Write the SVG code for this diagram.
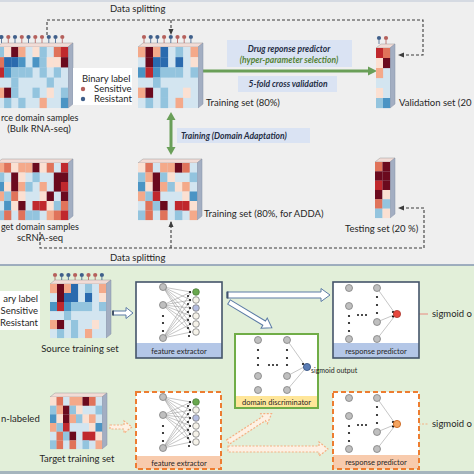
<svg xmlns="http://www.w3.org/2000/svg" xmlns:xlink="http://www.w3.org/1999/xlink" width="474" height="474" viewBox="0 0 474 474">
<style>
.t{font-family:Lato,"Liberation Sans",sans-serif;fill:#262626;font-size:9.5px}
.sm{font-size:7.5px}
.bi{font-weight:bold;font-style:italic;font-size:8.5px;fill:#1f2d44}
.gi{fill:#548235}
.mid{text-anchor:middle}
.end{text-anchor:end}
.nar{font-size:9px}
.a{fill:#6b0a1e}.b{fill:#c0282d}.c{fill:#e0735a}.d{fill:#f4a98a}.e{fill:#fbe0d2}.f{fill:#d3e5f0}.g{fill:#93c4de}.h{fill:#4b94c4}.i{fill:#2a6aae}
.k8 rect{width:7.6px;height:10.1px}
.k10 rect{width:7.2px;height:10.1px}
.k2 rect{width:7.1px;height:10.1px}
.tf{fill:#f2dcd6;stroke:#9a9a9a;stroke-width:.5}
.sf{fill:#a3aec2;stroke:#8791a6;stroke-width:.5}
.dl{fill:none;stroke:#3c3c3c;stroke-width:1.1;stroke-dasharray:3 2}
.gl{stroke:#6a9f58;stroke-width:3;fill:none}
.gh{fill:#6a9f58}
.rd{fill:#b5605c}.bl{fill:#3f5f8a}
.rs{stroke:#b5605c;stroke-width:.8}.bs{stroke:#3f5f8a;stroke-width:.8}
.nl{stroke:#8c8c8c;stroke-width:.5;fill:none}
.gn{fill:#bfbfbf;stroke:#7f7f7f;stroke-width:.8}
.wn{fill:#f6f3ea;stroke:#7f7f7f;stroke-width:.8}
.dt{fill:#111}
.ha{fill:#fff;stroke:#5b7ba5;stroke-width:1}
.hd{fill:#fdf1e4;stroke:#f4b183;stroke-width:1.2;stroke-dasharray:2 1.5}
.lb{fill:#dae3f3}
</style>
<defs>
<marker id="ah" viewBox="0 0 6 6" refX="5" refY="3" markerWidth="6" markerHeight="6" orient="auto" markerUnits="userSpaceOnUse"><path d="M0,0.5L6,3L0,5.5z" fill="#3c3c3c"/></marker>
<g id="hmA" class="k8">
<rect class="f" x="0" y="0" style="width:60px;height:60px"/>
<rect class="d" x="0" y="0"/><rect class="a" x="7.5" y="0"/><rect class="d" x="15" y="0"/><rect class="i" x="22.5" y="0"/><rect class="g" x="37.5" y="0"/><rect class="d" x="52.5" y="0"/>
<rect class="a" x="7.5" y="10"/><rect class="i" x="15" y="10"/><rect class="i" x="22.5" y="10"/><rect class="i" x="37.5" y="10"/><rect class="e" x="52.5" y="10"/>
<rect class="h" x="0" y="20"/><rect class="b" x="7.5" y="20"/><rect class="h" x="15" y="20"/><rect class="g" x="22.5" y="20"/><rect class="g" x="30" y="20"/><rect class="g" x="37.5" y="20"/><rect class="g" x="52.5" y="20"/>
<rect class="g" x="15" y="30"/>
<rect class="d" x="0" y="40"/><rect class="a" x="7.5" y="40"/><rect class="g" x="22.5" y="40"/><rect class="e" x="45" y="40"/>
<rect class="g" x="7.5" y="50"/><rect class="g" x="22.5" y="50"/><rect class="d" x="37.5" y="50"/>
</g>
<g id="hmB" class="k8">
<rect class="f" x="0" y="0" style="width:60px;height:60px"/>
<rect class="e" x="0" y="0"/><rect class="c" x="7.5" y="0"/><rect class="d" x="22.5" y="0"/><rect class="d" x="30" y="0"/><rect class="a" x="37.5" y="0"/><rect class="c" x="45" y="0"/>
<rect class="g" x="0" y="10"/><rect class="d" x="7.5" y="10"/><rect class="a" x="15" y="10"/><rect class="g" x="22.5" y="10"/><rect class="e" x="30" y="10"/><rect class="g" x="52.5" y="10"/>
<rect class="h" x="0" y="20"/><rect class="e" x="7.5" y="20"/><rect class="a" x="15" y="20"/><rect class="d" x="22.5" y="20"/><rect class="g" x="30" y="20"/><rect class="e" x="37.5" y="20"/><rect class="d" x="45" y="20"/>
<rect class="d" x="0" y="30"/><rect class="g" x="7.5" y="30"/><rect class="b" x="15" y="30"/><rect class="e" x="45" y="30"/><rect class="h" x="52.5" y="30"/>
<rect class="c" x="7.5" y="40"/><rect class="g" x="15" y="40"/><rect class="a" x="22.5" y="40"/><rect class="b" x="37.5" y="40"/><rect class="b" x="45" y="40"/><rect class="e" x="52.5" y="40"/>
<rect class="g" x="0" y="50"/><rect class="c" x="7.5" y="50"/><rect class="c" x="22.5" y="50"/><rect class="g" x="37.5" y="50"/><rect class="d" x="52.5" y="50"/>
</g>
<g id="fenet">
<path class="nl" d="M163,287L191,292M163,287L191,300M163,287L191,308M163,287L191,316M163,287L191,324M163,287L191,332M163,305L191,292M163,305L191,300M163,305L191,308M163,305L191,316M163,305L191,324M163,305L191,332M163,338L191,292M163,338L191,300M163,338L191,308M163,338L191,316M163,338L191,324M163,338L191,332"/>
<g class="dt"><circle cx="190" cy="292" r="1.1"/><circle cx="190" cy="300" r="1.1"/><circle cx="190" cy="308" r="1.1"/><circle cx="190" cy="316" r="1.1"/><circle cx="190" cy="324" r="1.1"/><circle cx="190" cy="332" r="1.1"/><circle cx="188" cy="296" r="1"/><circle cx="188" cy="304" r="1"/><circle cx="188" cy="312" r="1"/><circle cx="188" cy="320" r="1"/><circle cx="188" cy="328" r="1"/><circle cx="189" cy="336" r="1"/><circle cx="163" cy="316" r="1.1"/><circle cx="163" cy="323" r="1.1"/><circle cx="163" cy="331" r="1.1"/></g>
<circle class="gn" cx="163" cy="287" r="3.5"/><circle class="gn" cx="163" cy="305" r="3.5"/><circle class="gn" cx="163" cy="338" r="3.5"/>
<circle cx="196" cy="292" r="3.3" fill="#6aa84f" stroke="#4e7d38" stroke-width=".8"/>
<circle class="wn" cx="196" cy="300" r="3.3"/>
<circle cx="196" cy="308" r="3.3" fill="#b4bde0" stroke="#7f7f7f" stroke-width=".8"/>
<circle class="wn" cx="196" cy="316" r="3.3"/><circle class="wn" cx="196" cy="324" r="3.3"/><circle class="wn" cx="196" cy="332" r="3.3"/>
</g>
<g id="rpnet">
<path class="nl" d="M377,288L394,312M377,322L394,315M377,339L394,317"/>
<g class="dt"><circle cx="349" cy="316" r="1.1"/><circle cx="349" cy="323" r="1.1"/><circle cx="349" cy="331" r="1.1"/><circle cx="358" cy="315" r="1"/><circle cx="362" cy="315" r="1"/><circle cx="366" cy="315" r="1"/><circle cx="377" cy="297" r="1.1"/><circle cx="377" cy="305" r="1.1"/><circle cx="377" cy="313" r="1.1"/><circle cx="393" cy="312" r="1.1"/><circle cx="393" cy="316.5" r="1.1"/></g>
<circle class="gn" cx="349" cy="288" r="3.5"/><circle class="gn" cx="349" cy="306" r="3.5"/><circle class="gn" cx="349" cy="339" r="3.5"/>
<circle class="gn" cx="377" cy="288" r="3.5"/><circle class="gn" cx="377" cy="322" r="3.5"/><circle class="gn" cx="377" cy="339" r="3.5"/>
</g>
</defs>

<!-- backgrounds -->
<rect x="0" y="0" width="474" height="265" fill="#efefef"/>
<rect x="0" y="0" width="474" height="2" fill="#d5dae2"/>
<rect x="0" y="265" width="474" height="206" fill="#e2efd9"/>
<line x1="0" y1="265" x2="474" y2="265" stroke="#8497b0" stroke-width="1.6"/>
<rect x="0" y="471" width="474" height="3" fill="#a5b5bd"/>

<!-- connectors -->
<g id="connectors">
<path class="dl" d="M47,35V20H423V55H399" marker-end="url(#ah)"/>
<path class="dl" d="M171,20V34" marker-end="url(#ah)"/>
<path class="dl" d="M40,232V248H424V208H399" marker-end="url(#ah)"/>
<path class="dl" d="M171,248V222" marker-end="url(#ah)"/>
<line class="gl" x1="203" y1="71" x2="369" y2="71"/>
<path class="gh" d="M368,66.5L377,71L368,75.5z"/>
<line class="gl" x1="171" y1="119" x2="171" y2="148"/>
<path class="gh" d="M166.5,120L171,112L175.5,120z"/>
<path class="gh" d="M166.5,147L171,155L175.5,147z"/>
<polygon class="ha" points="113,311 126,311 126,307.5 133,313 126,318.5 126,315 113,315"/>
<line x1="113" y1="310.5" x2="113" y2="315.5" stroke="#44546a" stroke-width="2"/>
<polygon class="ha" points="227,292 321,292 321,288.5 330,295 321,301.5 321,298 227,298"/>
<line x1="227.5" y1="291.5" x2="227.5" y2="298.5" stroke="#44546a" stroke-width="2"/>
<polygon class="ha" transform="translate(229,302) rotate(31)" points="0,-2.5 41,-2.5 41,-6 50,0 41,6 41,2.5 0,2.5"/>
<polygon class="hd" points="110,425 124,425 124,421 132,427 124,433 124,429 110,429"/>
<polygon class="hd" points="228,446 319,446 319,442 328,449 319,456 319,452 228,452"/>
<polygon class="hd" transform="translate(228,442) rotate(-33)" points="0,-2.5 43,-2.5 43,-6 52,0 43,6 43,2.5 0,2.5"/>
<line x1="401" y1="314" x2="428" y2="314" stroke="#e88a80" stroke-width="1"/>
<line x1="401" y1="424" x2="428" y2="424" stroke="#f4b183" stroke-width="1" stroke-dasharray="2 1.5"/>
</g>

<!-- labels on connectors -->
<g id="lbl-split-top"><text class="t" x="110" y="12">Data splitting</text></g>
<g id="lbl-split-bottom"><text class="t" x="110" y="261">Data splitting</text></g>
<g id="lbl-drug">
<rect class="lb" x="227" y="40" width="125" height="27"/>
<text class="t bi mid" x="289" y="52">Drug reponse predictor</text>
<text class="t bi mid gi" x="289" y="63">(hyper-parameter selection)</text>
</g>
<g id="lbl-cv">
<rect class="lb" x="238" y="76" width="99" height="16"/>
<text class="t bi mid" x="288" y="87">5-fold cross validation</text>
</g>
<g id="lbl-da">
<rect class="lb" x="177" y="128" width="133" height="15"/>
<text class="t bi" x="181" y="139">Training (Domain Adaptation)</text>
</g>

<!-- source domain samples -->
<g id="n-src-domain">
<polygon class="tf" points="-3,47 2,43 73,43 68,47"/>
<polygon class="sf" points="68,47 73,43 73,104 68,108"/>
<g class="k10" transform="translate(-3,47) scale(1,1.0167)">
<rect class="f" x="0" y="0" style="width:71px;height:60px"/>
<rect class="g" x="0" y="0"/><rect class="e" x="7.1" y="0"/><rect class="a" x="14.2" y="0"/><rect class="d" x="21.3" y="0"/><rect class="e" x="35.5" y="0"/><rect class="g" x="42.6" y="0"/><rect class="c" x="56.8" y="0"/><rect class="b" x="63.9" y="0"/>
<rect class="c" x="0" y="10"/><rect class="i" x="7.1" y="10"/><rect class="i" x="14.2" y="10"/><rect class="h" x="21.3" y="10"/><rect class="h" x="35.5" y="10"/><rect class="g" x="42.6" y="10"/><rect class="e" x="49.7" y="10"/><rect class="e" x="56.8" y="10"/><rect class="a" x="63.9" y="10"/>
<rect class="b" x="0" y="20"/><rect class="h" x="7.1" y="20"/><rect class="g" x="14.2" y="20"/><rect class="g" x="21.3" y="20"/><rect class="g" x="28.4" y="20"/><rect class="g" x="42.6" y="20"/><rect class="g" x="56.8" y="20"/>
<rect class="g" x="14.2" y="30"/><rect class="g" x="49.7" y="30"/>
<rect class="d" x="0" y="40"/><rect class="a" x="7.1" y="40"/><rect class="g" x="14.2" y="40"/><rect class="g" x="35.5" y="40"/><rect class="e" x="49.7" y="40"/><rect class="g" x="63.9" y="40"/>
<rect class="g" x="7.1" y="50"/><rect class="g" x="21.3" y="50"/><rect class="d" x="42.6" y="50"/><rect class="h" x="63.9" y="50"/>
</g>
<g>
<line class="bs" x1="1.5" y1="39" x2="1.5" y2="43"/><line class="rs" x1="8.3" y1="39" x2="8.3" y2="43"/><line class="bs" x1="15" y1="39" x2="15" y2="43"/><line class="rs" x1="21.8" y1="39" x2="21.8" y2="43"/><line class="bs" x1="28.5" y1="39" x2="28.5" y2="43"/><line class="rs" x1="35.3" y1="39" x2="35.3" y2="43"/><line class="rs" x1="42" y1="39" x2="42" y2="43"/><line class="bs" x1="48.8" y1="39" x2="48.8" y2="43"/><line class="bs" x1="55.5" y1="39" x2="55.5" y2="43"/><line class="rs" x1="62.3" y1="39" x2="62.3" y2="43"/>
<circle class="bl" cx="1.5" cy="37" r="2.1"/><circle class="rd" cx="8.3" cy="37" r="2.1"/><circle class="bl" cx="15" cy="37" r="2.1"/><circle class="rd" cx="21.8" cy="37" r="2.1"/><circle class="bl" cx="28.5" cy="37" r="2.1"/><circle class="rd" cx="35.3" cy="37" r="2.1"/><circle class="rd" cx="42" cy="37" r="2.1"/><circle class="bl" cx="48.8" cy="37" r="2.1"/><circle class="bl" cx="55.5" cy="37" r="2.1"/><circle class="rd" cx="62.3" cy="37" r="2.1"/>
</g>
<text class="t nar" x="1" y="121">rce domain samples</text>
<text class="t mid" x="39" y="132">(Bulk RNA-seq)</text>
</g>

<g id="n-legend-top">
<rect x="73" y="68" width="59" height="37" fill="#fff"/>
<text class="t" x="82" y="82">Binary label</text>
<circle class="rd" cx="83" cy="89" r="2.2"/><text class="t" x="94" y="92">Sensitive</text>
<circle class="bl" cx="83" cy="99" r="2.2"/><text class="t" x="94" y="102">Resistant</text>
</g>

<g id="n-train80">
<polygon class="tf" points="138,47 143,43 203,43 198,47"/>
<polygon class="sf" points="198,47 203,43 203,104 198,108"/>
<use xlink:href="#hmA" href="#hmA" transform="translate(138,47) scale(1,1.0167)"/>
<line class="rs" x1="144" y1="39" x2="144" y2="43"/><line class="bs" x1="150.7" y1="39" x2="150.7" y2="43"/><line class="bs" x1="157.4" y1="39" x2="157.4" y2="43"/><line class="rs" x1="164.1" y1="39" x2="164.1" y2="43"/><line class="bs" x1="170.8" y1="39" x2="170.8" y2="43"/><line class="rs" x1="177.5" y1="39" x2="177.5" y2="43"/><line class="rs" x1="184.2" y1="39" x2="184.2" y2="43"/><line class="bs" x1="190.9" y1="39" x2="190.9" y2="43"/>
<circle class="rd" cx="144" cy="37" r="2.1"/><circle class="bl" cx="150.7" cy="37" r="2.1"/><circle class="bl" cx="157.4" cy="37" r="2.1"/><circle class="rd" cx="164.1" cy="37" r="2.1"/><circle class="bl" cx="170.8" cy="37" r="2.1"/><circle class="rd" cx="177.5" cy="37" r="2.1"/><circle class="rd" cx="184.2" cy="37" r="2.1"/><circle class="bl" cx="190.9" cy="37" r="2.1"/>
<text class="t" x="206" y="106">Training set (80%)</text>
</g>

<g id="n-val">
<polygon class="tf" points="376,48 381,44 395,44 390,48"/>
<polygon class="sf" points="390,48 395,44 395,104 390,108"/>
<g class="k2" transform="translate(376,48)">
<rect class="f" x="0" y="0" style="width:14px;height:60px"/>
<rect class="b" x="0" y="0"/><rect class="c" x="7" y="0"/>
<rect class="e" x="0" y="10"/><rect class="a" x="7" y="10"/>
<rect class="d" x="0" y="20"/>
<rect class="e" x="0" y="40"/>
<rect class="g" x="0" y="50"/><rect class="h" x="7" y="50"/>
</g>
<line class="bs" x1="379" y1="40" x2="379" y2="44"/><line class="rs" x1="386" y1="40" x2="386" y2="44"/>
<circle class="bl" cx="379" cy="38" r="2.1"/><circle class="rd" cx="386" cy="38" r="2.1"/>
<text class="t" x="399" y="106">Validation set (20</text>
</g>

<g id="n-adda">
<polygon class="tf" points="138,163 143,159 202,159 197,163"/>
<polygon class="sf" points="197,163 202,159 202,216 197,220"/>
<use xlink:href="#hmB" href="#hmB" transform="translate(138,163) scale(0.983,0.95)"/>
<text class="t" x="204" y="217">Training set (80%, for ADDA)</text>
</g>

<g id="n-tgt-domain">
<polygon class="tf" points="-3,163 2,159 73,159 68,163"/>
<polygon class="sf" points="68,163 73,159 73,216 68,220"/>
<g class="k10" transform="translate(-3,163) scale(1,0.95)">
<rect class="f" x="0" y="0" style="width:71px;height:60px"/>
<rect class="d" x="0" y="0"/><rect class="c" x="7.1" y="0"/><rect class="e" x="14.2" y="0"/><rect class="d" x="21.3" y="0"/><rect class="d" x="28.4" y="0"/><rect class="a" x="35.5" y="0"/><rect class="e" x="42.6" y="0"/><rect class="c" x="49.7" y="0"/><rect class="b" x="63.9" y="0"/>
<rect class="g" x="0" y="10"/><rect class="a" x="14.2" y="10"/><rect class="e" x="21.3" y="10"/><rect class="g" x="35.5" y="10"/><rect class="a" x="56.8" y="10"/><rect class="a" x="63.9" y="10"/>
<rect class="h" x="0" y="20"/><rect class="e" x="7.1" y="20"/><rect class="a" x="14.2" y="20"/><rect class="d" x="21.3" y="20"/><rect class="g" x="28.4" y="20"/><rect class="d" x="42.6" y="20"/><rect class="a" x="56.8" y="20"/><rect class="b" x="63.9" y="20"/>
<rect class="d" x="0" y="30"/><rect class="g" x="7.1" y="30"/><rect class="c" x="14.2" y="30"/><rect class="e" x="21.3" y="30"/><rect class="e" x="42.6" y="30"/><rect class="a" x="49.7" y="30"/><rect class="a" x="63.9" y="30"/>
<rect class="h" x="7.1" y="40"/><rect class="e" x="14.2" y="40"/><rect class="a" x="21.3" y="40"/><rect class="b" x="35.5" y="40"/><rect class="b" x="42.6" y="40"/><rect class="e" x="49.7" y="40"/><rect class="g" x="56.8" y="40"/><rect class="c" x="63.9" y="40"/>
<rect class="g" x="0" y="50"/><rect class="c" x="7.1" y="50"/><rect class="c" x="21.3" y="50"/><rect class="g" x="28.4" y="50"/><rect class="g" x="35.5" y="50"/><rect class="d" x="49.7" y="50"/><rect class="c" x="56.8" y="50"/><rect class="b" x="63.9" y="50"/>
</g>
<text class="t nar" x="1" y="230">get domain samples</text>
<text class="t mid" x="40" y="241">scRNA-seq</text>
</g>

<g id="n-test">
<polygon class="tf" points="375,162 380,158 395,158 390,162"/>
<polygon class="sf" points="390,162 395,158 395,214 390,218"/>
<g class="k2" transform="translate(375,162) scale(1.07,0.933)">
<rect class="f" x="0" y="0" style="width:14px;height:60px"/>
<rect class="c" x="0" y="0"/><rect class="a" x="7" y="0"/>
<rect class="a" x="0" y="10"/><rect class="a" x="7" y="10"/>
<rect class="b" x="0" y="20"/><rect class="a" x="7" y="20"/>
<rect class="a" x="0" y="30"/><rect class="e" x="7" y="30"/>
<rect class="c" x="0" y="40"/><rect class="g" x="7" y="40"/>
<rect class="g" x="0" y="50"/><rect class="e" x="7" y="50"/>
</g>
<text class="t" x="345" y="232">Testing set (20 %)</text>
</g>

<!-- bottom panel -->
<g id="n-legend-bottom">
<rect x="0" y="291" width="40" height="39" fill="#fff"/>
<text class="t end" x="38" y="302">ary label</text>
<text class="t end" x="38" y="314">Sensitive</text>
<text class="t end" x="38" y="326">Resistant</text>
</g>

<g id="n-src-train">
<polygon class="tf" points="50,284 55,280 111,280 106,284"/>
<polygon class="sf" points="106,284 111,280 111,334 106,338"/>
<use xlink:href="#hmA" href="#hmA" transform="translate(50,284) scale(0.933,0.9)"/>
<line class="rs" x1="55" y1="277" x2="55" y2="280"/><line class="bs" x1="61.7" y1="277" x2="61.7" y2="280"/><line class="bs" x1="68.4" y1="277" x2="68.4" y2="280"/><line class="rs" x1="75.1" y1="277" x2="75.1" y2="280"/><line class="bs" x1="81.8" y1="277" x2="81.8" y2="280"/><line class="rs" x1="88.5" y1="277" x2="88.5" y2="280"/><line class="rs" x1="95.2" y1="277" x2="95.2" y2="280"/><line class="bs" x1="101.9" y1="277" x2="101.9" y2="280"/>
<circle class="rd" cx="55" cy="275" r="2.1"/><circle class="bl" cx="61.7" cy="275" r="2.1"/><circle class="bl" cx="68.4" cy="275" r="2.1"/><circle class="rd" cx="75.1" cy="275" r="2.1"/><circle class="bl" cx="81.8" cy="275" r="2.1"/><circle class="rd" cx="88.5" cy="275" r="2.1"/><circle class="rd" cx="95.2" cy="275" r="2.1"/><circle class="bl" cx="101.9" cy="275" r="2.1"/>
<text class="t mid" x="80" y="352">Source training set</text>
</g>

<g id="n-tgt-train">
<polygon class="tf" points="50,397 55,393 107,393 102,397"/>
<polygon class="sf" points="102,397 107,393 107,445 102,449"/>
<use xlink:href="#hmB" href="#hmB" transform="translate(50,397) scale(0.867,0.867)"/>
<text class="t" x="1" y="422">n-labeled</text>
<text class="t mid" x="77" y="462">Target training set</text>
</g>

<g id="n-fe-src">
<rect x="136" y="282" width="86" height="76" fill="#fff"/>
<rect x="136" y="343" width="86" height="15" fill="#b4c7e7"/>
<use xlink:href="#fenet" href="#fenet"/>
<rect x="136" y="282" width="86" height="76" fill="none" stroke="#44546a" stroke-width="1.6"/>
<text class="t sm mid" x="179" y="354">feature extractor</text>
</g>

<g id="n-rp-src">
<rect x="333" y="282" width="86" height="76" fill="#fff"/>
<rect x="333" y="343" width="86" height="15" fill="#b4c7e7"/>
<use xlink:href="#rpnet" href="#rpnet"/>
<circle cx="397" cy="314" r="3.6" fill="#e8473d" stroke="#a8362d" stroke-width=".8"/>
<rect x="333" y="282" width="86" height="76" fill="none" stroke="#44546a" stroke-width="1.6"/>
<text class="t sm mid" x="376" y="354">response predictor</text>
<text class="t" x="432" y="317">sigmoid o</text>
</g>

<g id="n-disc">
<rect x="235" y="334" width="83" height="74" fill="#fff"/>
<rect x="235" y="396" width="83" height="12" fill="#ffe699"/>
<path class="nl" d="M287,340L304,364M287,376L304,367M287,390L304,370"/>
<g class="dt"><circle cx="258" cy="350" r="1.1"/><circle cx="258" cy="358" r="1.1"/><circle cx="258" cy="365" r="1.1"/><circle cx="287" cy="350" r="1.1"/><circle cx="287" cy="358" r="1.1"/><circle cx="287" cy="365" r="1.1"/><circle cx="269" cy="365" r="1"/><circle cx="273" cy="365" r="1"/><circle cx="277" cy="365" r="1"/><circle cx="303" cy="364" r="1.1"/></g>
<circle class="gn" cx="258" cy="340" r="3.5"/><circle class="gn" cx="258" cy="376" r="3.5"/><circle class="gn" cx="258" cy="390" r="3.5"/>
<circle class="gn" cx="287" cy="340" r="3.5"/><circle class="gn" cx="287" cy="376" r="3.5"/><circle class="gn" cx="287" cy="390" r="3.5"/>
<circle cx="307" cy="367" r="3.6" fill="#5b7db5" stroke="#2f4b7c" stroke-width=".8"/>
<rect x="235" y="334" width="83" height="74" fill="none" stroke="#70ad47" stroke-width="2"/>
<text class="t sm mid" x="276.5" y="405">domain discriminator</text>
<text class="t" x="311" y="373" style="font-size:7px">sigmoid output</text>
</g>

<g id="n-fe-tgt">
<rect x="136" y="392" width="85" height="77" fill="#fff"/>
<rect x="136" y="456" width="85" height="13" fill="#f8cbad"/>
<use xlink:href="#fenet" href="#fenet" transform="translate(0,110)"/>
<rect x="136" y="392" width="85" height="77" fill="none" stroke="#ed7d31" stroke-width="2" stroke-dasharray="5 3"/>
<text class="t sm mid" x="179" y="466">feature extractor</text>
</g>

<g id="n-rp-tgt">
<rect x="333" y="392" width="86" height="77" fill="#fff"/>
<rect x="333" y="455" width="86" height="14" fill="#f8cbad"/>
<use xlink:href="#rpnet" href="#rpnet" transform="translate(0,110)"/>
<circle cx="397" cy="424" r="3.6" fill="#f4a460" stroke="#c55a11" stroke-width=".8"/>
<rect x="333" y="392" width="86" height="77" fill="none" stroke="#ed7d31" stroke-width="2" stroke-dasharray="5 3"/>
<text class="t sm mid" x="376" y="465">response predictor</text>
<text class="t" x="432" y="427">sigmoid o</text>
</g>
</svg>
